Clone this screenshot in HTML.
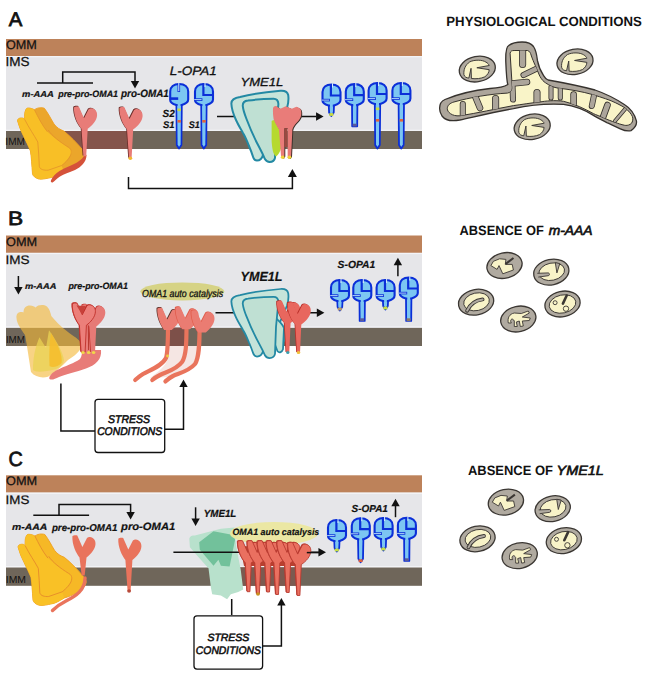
<!DOCTYPE html>
<html><head><meta charset="utf-8">
<style>
html,body{margin:0;padding:0;background:#fff;width:671px;height:686px;overflow:hidden}
svg{display:block}
text{font-family:"Liberation Sans",sans-serif;fill:#111;text-rendering:geometricPrecision}
.bi{font-weight:bold;font-style:italic;stroke:#111;stroke-width:0.2}
.it{font-style:italic;stroke:#111;stroke-width:0.3}
.b{font-weight:bold}
</style></head><body>
<svg width="671" height="686" viewBox="0 0 671 686">
<text x="8.86" y="25.90" font-size="19.91" textLength="13.58" lengthAdjust="spacingAndGlyphs" stroke="#111" stroke-width="0.75">A</text>
<rect x="6" y="39" width="416" height="17.1" fill="#bd825a"/>
<rect x="6" y="56.1" width="416" height="74.8" fill="#e6e6e9"/>
<rect x="6" y="130.9" width="416" height="18.1" fill="#6f665a"/>
<rect x="6" y="56.1" width="416" height="1.2" fill="#f3f4f8"/>
<rect x="6" y="129.70000000000002" width="416" height="1.2" fill="#f3f4f8"/>
<rect x="55" y="131" width="77" height="18" fill="#84544b"/>
<text x="5.90" y="48.50" font-size="12.65" stroke="#111" stroke-width="0.25">OMM</text>
<text x="5.55" y="66.40" font-size="13.08" textLength="24.07" lengthAdjust="spacingAndGlyphs" stroke="#111" stroke-width="0.25">IMS</text>
<text x="5.37" y="145.30" font-size="10.61" fill="#1a1a1a" textLength="19.55" lengthAdjust="spacingAndGlyphs">IMM</text>
<path d="M37,83 L93,83 M62.7,83 L62.7,72 L135,72 L135,82" fill="none" stroke="#111" stroke-width="1.5"/>
<path d="M135,88.5 L130.8,80.94 L139.2,80.94 Z" fill="#111"/>
<text x="22.04" y="97.20" font-size="8.72" class="bi" textLength="31.84" lengthAdjust="spacingAndGlyphs">m-AAA</text>
<text x="58.20" y="97.20" font-size="9.16" class="bi" textLength="59.88" lengthAdjust="spacingAndGlyphs">pre-pro-OMA1</text>
<text x="121.02" y="96.90" font-size="10.61" class="bi" textLength="47.81" lengthAdjust="spacingAndGlyphs">pro-OMA1</text>
<g transform="translate(0,0) scale(1.0)"><path d="M17.6,121 C17.3,118.5 20,117.6 22.9,118.1 C23.6,118.3 24.2,118.8 24.6,119.3 C24.5,115 24.8,112 25.3,111 C26,108.5 27,108 28.3,108 C30.5,108 32.5,108.8 34.4,109.7 C36.5,108.4 38.5,107.7 40.8,107.7 C42.5,107.7 43.6,107.9 44.4,108.3 C48,113 51,119 54,124 C57,128 60,129.5 63.8,131 C70,136 77,143 82.6,149.8 C84.5,152 85.7,154 85.7,156 C85,160 81,164 76.3,166.5 C72,169 68,170.5 63.8,171.7 C58,175 55,177 51.3,177.5 C47,178.5 42,179.5 38.8,179 C35,178 33,176 32.5,173.8 C31.8,165 31.5,157 30.4,150.9 C27,142 20,131 17.6,121 Z" fill="#eba62b" stroke="#ee9f22" stroke-width="0.9"/><path d="M17.6,121 C17.3,118.5 20,117.6 22.9,118.1 C23.6,118.3 24.2,118.8 24.6,119.3 C24.5,115 24.8,112 25.3,111 C26,108.5 27,108 28.3,108 C30.5,108 32.5,108.8 34.4,109.7 C38,117 42,125 47.4,131.8 C55,139 64,144 70,148.8 C72,151 72,153 71.1,154 C68,159 65,163 61.7,165.5 L63.8,171.7 C58,175 55,177 51.3,177.5 C47,178.5 42,179.5 38.8,179 C35,178 33,176 32.5,173.8 C31.8,165 31.5,157 30.4,150.9 C27,142 20,131 17.6,121 Z" fill="#f8bf26"/><path d="M24.6,119.3 C29,128 34,135 37.8,142 C38.5,150 39,158 39.3,166.5 C40,169.5 44,170.5 48.2,170.2 L61.7,165.5 C66,162 70,158 71,154 C72,150 70,148 68,147 C60,142 52,136 48.2,130 M34.4,109.7 C38,117 42,125 47.4,131.8" fill="none" stroke="#e3922a" stroke-width="0.8"/></g>
<path d="M86.5,155 C86.5,162 81,167 75,170 C69,172.5 64,174 60,176.5 C57,178.5 55,180.5 53,182.3 C51.5,183 50.3,182 51,180.3 C52.5,177 55.5,173.5 59.5,171 C65.5,167.5 72,165.5 77,162.5 C81,160 83.5,157.5 85,154 Z" fill="#d5523a"/>
<g transform="translate(74.3,106.7)"><path d="M-0.3,0.8 C0.5,-0.2 3,-0.5 4.6,0 L9.7,11.6 L14.3,2.6 C15,1.8 16.2,1.5 17.2,1.6 C20.8,2 23,4.8 22.8,8.6 C22.5,14 18,19 13.4,22 L11.9,49.5 L9.1,49.5 L7.200000000000001,22 C3.5,18 -0.8,9 -0.3,0.8 Z" fill="#6a2c28" transform="translate(-0.8,-0.6)"/><path d="M-0.3,0.8 C0.5,-0.2 3,-0.5 4.6,0 L9.7,11.6 L14.3,2.6 C15,1.8 16.2,1.5 17.2,1.6 C20.8,2 23,4.8 22.8,8.6 C22.5,14 18,19 13.4,22 L11.9,49.5 L9.1,49.5 L7.200000000000001,22 C3.5,18 -0.8,9 -0.3,0.8 Z" fill="#e87c78"/></g>
<g transform="translate(119.8,107.3)"><path d="M-0.3,0.8 C0.5,-0.2 3,-0.5 4.6,0 L9.7,11.6 L14.3,2.6 C15,1.8 16.2,1.5 17.2,1.6 C20.8,2 23,4.8 22.8,8.6 C22.5,14 18,19 13.4,22 L11.8,51 L9.2,51 L7.200000000000001,22 C3.5,18 -0.8,9 -0.3,0.8 Z" fill="#6a2c28" transform="translate(-0.8,-0.6)"/><path d="M-0.3,0.8 C0.5,-0.2 3,-0.5 4.6,0 L9.7,11.6 L14.3,2.6 C15,1.8 16.2,1.5 17.2,1.6 C20.8,2 23,4.8 22.8,8.6 C22.5,14 18,19 13.4,22 L11.8,51 L9.2,51 L7.200000000000001,22 C3.5,18 -0.8,9 -0.3,0.8 Z" fill="#e87c78"/><ellipse cx="10.5" cy="51" rx="1.9" ry="1.7" fill="#f2b632"/></g>
<text x="169.89" y="75.30" font-size="12.21" class="it" textLength="46.92" lengthAdjust="spacingAndGlyphs">L-OPA1</text>
<g transform="translate(169.2,83)"><path d="M7.2,20.0 L7.6,62 L9.8,65.5 L12.2,62 L12.6,20.0 Z" fill="#7cc6f2" stroke="#0b2fd8" stroke-width="1.8" stroke-linejoin="round"/><path d="M10,1 C4.5,1 1,3.8 1,8.5 L1,17 C1,19.2 3,20.8 7.2,22.0 L12.6,22.0 C16.5,20.8 19,19 19,16.5 L19,8.5 C19,3.8 15.5,1 10,1 Z" fill="#7cc6f2" stroke="#0b2fd8" stroke-width="2.1" stroke-linejoin="round"/><path d="M8.4,19.0 L8.7,62 L11,62 L11.4,19.0 Z" fill="#7cc6f2"/><path d="M9.6,0.4 L9.6,9" stroke="#0b2fd8" stroke-width="2.6"/><path d="M9.6,0 L9.6,8.2" stroke="#d6f0fb" stroke-width="1"/><path d="M0.6,15.6 L9,15.6" stroke="#0b2fd8" stroke-width="2.6"/><rect x="8.3" y="25.5" width="3.4" height="2.6" fill="#c8dc40"/><rect x="8.3" y="37.0" width="3.4" height="2.6" fill="#e4643a"/></g>
<g transform="translate(194,83)"><path d="M7.2,20.0 L7.6,62 L9.8,65.5 L12.2,62 L12.6,20.0 Z" fill="#7cc6f2" stroke="#0b2fd8" stroke-width="1.8" stroke-linejoin="round"/><path d="M10,1 C4.5,1 1,3.8 1,8.5 L1,17 C1,19.2 3,20.8 7.2,22.0 L12.6,22.0 C16.5,20.8 19,19 19,16.5 L19,8.5 C19,3.8 15.5,1 10,1 Z" fill="#7cc6f2" stroke="#0b2fd8" stroke-width="2.1" stroke-linejoin="round"/><path d="M8.4,19.0 L8.7,62 L11,62 L11.4,19.0 Z" fill="#7cc6f2"/><path d="M9.4,0.6 L9.4,12 L19,12" fill="none" stroke="#0b2fd8" stroke-width="2.2"/><path d="M11,-0.2 L11,4" stroke="#d8effa" stroke-width="1"/><path d="M0.6,16.6 L8.4,16.6" stroke="#0b2fd8" stroke-width="2.6"/><path d="M0.2,16.6 L7.6,16.6" stroke="#c2e8fb" stroke-width="0.9"/><rect x="8.3" y="37.0" width="3.4" height="2.6" fill="#e4643a"/></g>
<text x="162.58" y="116.90" font-size="10.32" class="bi" textLength="12.22" lengthAdjust="spacingAndGlyphs">S2</text>
<text x="163.09" y="128.40" font-size="9.59" class="bi" textLength="11.52" lengthAdjust="spacingAndGlyphs">S1</text>
<text x="188.79" y="128.40" font-size="9.59" class="bi" textLength="10.99" lengthAdjust="spacingAndGlyphs">S1</text>
<text x="240.44" y="86.00" font-size="11.63" class="it" textLength="42.87" lengthAdjust="spacingAndGlyphs">YME1L</text>
<path d="M217,116.5 L316,116.5" fill="none" stroke="#111" stroke-width="1.5"/>
<path d="M323.6,116.5 L316.04,112.3 L316.04,120.7 Z" fill="#111"/>
<g stroke="#2389a4" stroke-width="2" stroke-linejoin="round"><path d="M231.4,104 C231,100 234,98 240.1,97 C250,94.5 265,92 280.4,90.7 C284,90.4 287.5,91.5 288.2,95 C288.8,99 288.5,103 287,108 L280,125 C275,138 268,148 263,155.1 C262,158.5 260,160.5 257,160.5 C254.5,160.5 253.5,158.5 252.9,156.4 C251.5,152 250.5,149.5 249,146 C247,141 245.5,137 243,133 C240.5,128.5 238,124.5 236,120 C233.5,114.5 231.6,109.5 231.4,104 Z" fill="#c6e4da"/><path d="M242.8,106.2 C242.5,103 244.5,101 248,100.6 C256,99.5 266,98.8 273.6,98.8 C276.5,98.8 278.2,100.5 278.4,104 L276,130 L275,157.8 C274.5,160.5 272.5,162 269.6,162 C267.5,162 266,161 264.9,159.1 C262,152 259.5,148 257,143 C253,135 249.5,127 246.5,119 C244.5,114 243.2,110 242.8,106.2 Z" fill="#bfe0d3"/></g><path d="M271.6,121 C276,118 281,122 282,135 C282.5,145 281,153 276,156.4 C273,155 272,148 271.6,140 Z" fill="#b6d92e"/><path d="M273,108.2 C273.5,106.5 275,105.8 276.3,106.2 L280.4,108.8 L285.7,106.2 L291.8,108.8 L296.4,106.8 C299,107.5 301,109 301.1,110.8 C301.5,113 301.3,115 301,116.2 C300,119 298.5,121 296.4,122.9 C294.5,125 293,127 292.4,129.6 L291.1,156.4 L289.7,158.5 L287.7,158 L287.5,128.3 L284.4,128.3 L284.4,156 L283,158.5 L281,156 L279,129.6 C277,126 274.5,122 273.6,118.9 C273,115 272.8,111 273,108.2 Z" fill="#3b2e28" transform="translate(0.9,0.6)"/><path d="M273,108.2 C273.5,106.5 275,105.8 276.3,106.2 L280.4,108.8 L285.7,106.2 L291.8,108.8 L296.4,106.8 C299,107.5 301,109 301.1,110.8 C301.5,113 301.3,115 301,116.2 C300,119 298.5,121 296.4,122.9 C294.5,125 293,127 292.4,129.6 L291.1,156.4 L289.7,158.5 L287.7,158 L287.5,128.3 L284.4,128.3 L284.4,156 L283,158.5 L281,156 L279,129.6 C277,126 274.5,122 273.6,118.9 C273,115 272.8,111 273,108.2 Z" fill="#e97c79"/><path d="M284.4,128.3 L287.5,128.3 L287.6,147 L284.4,147 Z" fill="#9a4a40"/><ellipse cx="282.7" cy="157.3" rx="1.9" ry="1.8" fill="#f0d23a"/><ellipse cx="289.5" cy="157.3" rx="1.9" ry="1.8" fill="#f0d23a"/>
<g transform="translate(321.5,83.5)"><path d="M7.2,20.0 L7.6,29.0 L9.8,32.5 L12.2,29.0 L12.6,20.0 Z" fill="#7cc6f2" stroke="#0b2fd8" stroke-width="1.8" stroke-linejoin="round"/><path d="M10,1 C4.5,1 1,3.8 1,8.5 L1,17 C1,19.2 3,20.8 7.2,22.0 L12.6,22.0 C16.5,20.8 19,19 19,16.5 L19,8.5 C19,3.8 15.5,1 10,1 Z" fill="#7cc6f2" stroke="#0b2fd8" stroke-width="2.1" stroke-linejoin="round"/><path d="M8.4,19.0 L8.7,29.0 L11,29.0 L11.4,19.0 Z" fill="#7cc6f2"/><path d="M9.4,0.6 L9.4,12 L19,12" fill="none" stroke="#0b2fd8" stroke-width="2.2"/><path d="M11,-0.2 L11,4" stroke="#d8effa" stroke-width="1"/><path d="M0.6,16.6 L8.4,16.6" stroke="#0b2fd8" stroke-width="2.6"/><path d="M0.2,16.6 L7.6,16.6" stroke="#c2e8fb" stroke-width="0.9"/><rect x="7.8" y="29.6" width="4" height="2.8" fill="#c8dc40"/></g>
<g transform="translate(344.8,83.1)"><path d="M7.2,20.0 L7.4,43.2 L12.4,43.2 L12.6,20.0 Z" fill="#7cc6f2" stroke="#0b2fd8" stroke-width="1.8" stroke-linejoin="round"/><path d="M10,1 C4.5,1 1,3.8 1,8.5 L1,17 C1,19.2 3,20.8 7.2,22.0 L12.6,22.0 C16.5,20.8 19,19 19,16.5 L19,8.5 C19,3.8 15.5,1 10,1 Z" fill="#7cc6f2" stroke="#0b2fd8" stroke-width="2.1" stroke-linejoin="round"/><path d="M8.4,19.0 L8.7,40.0 L11,40.0 L11.4,19.0 Z" fill="#7cc6f2"/><path d="M9.4,0.6 L9.4,12 L19,12" fill="none" stroke="#0b2fd8" stroke-width="2.2"/><path d="M11,-0.2 L11,4" stroke="#d8effa" stroke-width="1"/><path d="M0.6,16.6 L8.4,16.6" stroke="#0b2fd8" stroke-width="2.6"/><path d="M0.2,16.6 L7.6,16.6" stroke="#c2e8fb" stroke-width="0.9"/><rect x="7.8" y="40.6" width="4" height="2.8" fill="#5a5a9a"/></g>
<g transform="translate(367.6,82)"><path d="M7.2,20.0 L7.6,63 L9.8,66.5 L12.2,63 L12.6,20.0 Z" fill="#7cc6f2" stroke="#0b2fd8" stroke-width="1.8" stroke-linejoin="round"/><path d="M10,1 C4.5,1 1,3.8 1,8.5 L1,17 C1,19.2 3,20.8 7.2,22.0 L12.6,22.0 C16.5,20.8 19,19 19,16.5 L19,8.5 C19,3.8 15.5,1 10,1 Z" fill="#7cc6f2" stroke="#0b2fd8" stroke-width="2.1" stroke-linejoin="round"/><path d="M8.4,19.0 L8.7,63 L11,63 L11.4,19.0 Z" fill="#7cc6f2"/><path d="M9.4,0.6 L9.4,12 L19,12" fill="none" stroke="#0b2fd8" stroke-width="2.2"/><path d="M11,-0.2 L11,4" stroke="#d8effa" stroke-width="1"/><path d="M0.6,16.6 L8.4,16.6" stroke="#0b2fd8" stroke-width="2.6"/><path d="M0.2,16.6 L7.6,16.6" stroke="#c2e8fb" stroke-width="0.9"/><rect x="8.3" y="25.5" width="3.4" height="2.6" fill="#c8dc40"/><rect x="8.3" y="37.0" width="3.4" height="2.6" fill="#e4643a"/></g>
<g transform="translate(391.4,82)"><path d="M7.2,20.0 L7.6,63 L9.8,66.5 L12.2,63 L12.6,20.0 Z" fill="#7cc6f2" stroke="#0b2fd8" stroke-width="1.8" stroke-linejoin="round"/><path d="M10,1 C4.5,1 1,3.8 1,8.5 L1,17 C1,19.2 3,20.8 7.2,22.0 L12.6,22.0 C16.5,20.8 19,19 19,16.5 L19,8.5 C19,3.8 15.5,1 10,1 Z" fill="#7cc6f2" stroke="#0b2fd8" stroke-width="2.1" stroke-linejoin="round"/><path d="M8.4,19.0 L8.7,63 L11,63 L11.4,19.0 Z" fill="#7cc6f2"/><path d="M9.4,0.6 L9.4,12 L19,12" fill="none" stroke="#0b2fd8" stroke-width="2.2"/><path d="M11,-0.2 L11,4" stroke="#d8effa" stroke-width="1"/><path d="M0.6,16.6 L8.4,16.6" stroke="#0b2fd8" stroke-width="2.6"/><path d="M0.2,16.6 L7.6,16.6" stroke="#c2e8fb" stroke-width="0.9"/><rect x="8.3" y="37.0" width="3.4" height="2.6" fill="#e4643a"/></g>
<path d="M128.5,177 L128.5,188.6 L292.4,188.6 L292.4,175" fill="none" stroke="#111" stroke-width="1.5"/>
<path d="M292.4,169 L287.9,177.1 L296.9,177.1 Z" fill="#111"/>
<text x="446.32" y="26.40" font-size="13.37" class="b" textLength="195.40" lengthAdjust="spacingAndGlyphs">PHYSIOLOGICAL CONDITIONS</text>
<defs><clipPath id="bmclip"><path d="M447.3,108.6 C447.5,105 450,103.2 453.9,102 C470,97.5 490,94 507.5,93.1 C510,92.5 512.5,91 512.3,88 L510.1,53.2 C510.5,51 512,50.5 514.1,50.5 L527.5,50.5 C529.5,51 530.5,53 531.1,55 C532,58 533,60 533.8,62.2 C535,65 535.8,66.5 536.5,68.4 C538,72 539,74.5 540,76.5 C542,80 543.5,81.5 545.4,82.7 C550,86 554,87.5 558,88.1 C570,89.5 582,91.5 593.4,94.8 C602,97.5 610,100 615.8,102.9 C622,106 626,108 628.3,110.9 C631,113.5 632.5,116 632.8,118.1 C633,121 632,123.5 630.1,124.4 C628,125.5 626,125.5 624.7,125.3 C621,124.5 618,123.5 615.8,122.6 C611,121 607,119.5 604.2,118.1 C600,116 596,115 593.4,113.6 C585,109 575,104 563.5,101.3 C555,100 545,101 540,102 C530,103 522,104.5 513.5,105.6 C495,109 478,113 459.8,115.8 C452,116.5 447.2,112 447.3,108.6 Z"/></clipPath></defs><path d="M439.6,108.6 C439.5,104 441.5,101 445,99.5 C458,94 472,90.5 490,88.5 C498,88 504,87 507.8,84.5 C506.5,80 506.2,72 505.8,62 C505.5,52 506,47 508.7,45.5 C512,43 517,42 522.1,42 C527,42 531,43 533.5,46.5 C536.5,51 537,57 537.4,60.4 C538.5,66 540.5,71 543.6,75.6 C545,78 546.5,79.5 548.1,80 C565,83 580,86 595,90 C606.8,94 616,99 624.7,104.7 C630,108 634,112 636.4,120.8 C637,124 636,127 631,130.6 C628,131.5 624,130.5 620.3,128.8 C615,126.5 610,124 606.8,122.6 C600,119 596,117 593.4,115.4 C585,110 575,106 563.5,104.4 C548,103.5 530,105 513.5,108.6 C495,112 478,116 459.8,120 C452,121.5 445,120 442,116 C440,113 439.6,111 439.6,108.6 Z" fill="#aca59b" stroke="#36322e" stroke-width="1.3"/><path d="M447.3,108.6 C447.5,105 450,103.2 453.9,102 C470,97.5 490,94 507.5,93.1 C510,92.5 512.5,91 512.3,88 L510.1,53.2 C510.5,51 512,50.5 514.1,50.5 L527.5,50.5 C529.5,51 530.5,53 531.1,55 C532,58 533,60 533.8,62.2 C535,65 535.8,66.5 536.5,68.4 C538,72 539,74.5 540,76.5 C542,80 543.5,81.5 545.4,82.7 C550,86 554,87.5 558,88.1 C570,89.5 582,91.5 593.4,94.8 C602,97.5 610,100 615.8,102.9 C622,106 626,108 628.3,110.9 C631,113.5 632.5,116 632.8,118.1 C633,121 632,123.5 630.1,124.4 C628,125.5 626,125.5 624.7,125.3 C621,124.5 618,123.5 615.8,122.6 C611,121 607,119.5 604.2,118.1 C600,116 596,115 593.4,113.6 C585,109 575,104 563.5,101.3 C555,100 545,101 540,102 C530,103 522,104.5 513.5,105.6 C495,109 478,113 459.8,115.8 C452,116.5 447.2,112 447.3,108.6 Z" fill="#f9f4c8" stroke="#36322e" stroke-width="1"/><g clip-path="url(#bmclip)" fill="none" stroke-linecap="round"><path d="M522.6,48 L522.6,64.5" stroke="#36322e" stroke-width="7.1"/><path d="M538,68 L523.5,75" stroke="#36322e" stroke-width="6.1"/><path d="M510,83.8 L527,82" stroke="#36322e" stroke-width="6.6"/><path d="M512.5,86 L513,99.5" stroke="#36322e" stroke-width="6.1"/><path d="M537,107 L537,92.5" stroke="#36322e" stroke-width="7.1"/><path d="M551,87 L551,98" stroke="#36322e" stroke-width="5.1"/><path d="M560.3,88 L560.3,98" stroke="#36322e" stroke-width="5.1"/><path d="M573.6,104 L573.6,94.5" stroke="#36322e" stroke-width="6.6"/><path d="M594.5,93 L591.8,106" stroke="#36322e" stroke-width="6.1"/><path d="M602,120 L607.5,105" stroke="#36322e" stroke-width="6.6"/><path d="M626,108 L615,121" stroke="#36322e" stroke-width="4.1"/><path d="M475,96 L480,108" stroke="#36322e" stroke-width="6.6"/><path d="M462.8,118 L462.8,104" stroke="#36322e" stroke-width="6.1"/><path d="M495.6,112 L495.6,98.5" stroke="#36322e" stroke-width="7.1"/><path d="M522.6,48 L522.6,64.5" stroke="#aca59b" stroke-width="5.5"/><path d="M538,68 L523.5,75" stroke="#aca59b" stroke-width="4.5"/><path d="M510,83.8 L527,82" stroke="#aca59b" stroke-width="5"/><path d="M512.5,86 L513,99.5" stroke="#aca59b" stroke-width="4.5"/><path d="M537,107 L537,92.5" stroke="#aca59b" stroke-width="5.5"/><path d="M551,87 L551,98" stroke="#aca59b" stroke-width="3.5"/><path d="M560.3,88 L560.3,98" stroke="#aca59b" stroke-width="3.5"/><path d="M573.6,104 L573.6,94.5" stroke="#aca59b" stroke-width="5"/><path d="M594.5,93 L591.8,106" stroke="#aca59b" stroke-width="4.5"/><path d="M602,120 L607.5,105" stroke="#aca59b" stroke-width="5"/><path d="M626,108 L615,121" stroke="#aca59b" stroke-width="2.5"/><path d="M475,96 L480,108" stroke="#aca59b" stroke-width="5"/><path d="M462.8,118 L462.8,104" stroke="#aca59b" stroke-width="4.5"/><path d="M495.6,112 L495.6,98.5" stroke="#aca59b" stroke-width="5.5"/></g>
<g transform="translate(477.3,69.1)"><ellipse cx="0" cy="0" rx="18.2" ry="12.6" transform="rotate(-11)" fill="#b0aaa0" stroke="#3b3733" stroke-width="1.3"/><path d="M-14,6 C-14.5,1 -13,-4 -8,-7.5 C-3,-10 5,-10 9,-7.5 C11,-6.5 12,-5 12.5,-4 L-0.5,-1.4 L12.5,0.4 C12.5,3 11,6 8,8 C4,10 -1,10.5 -6,10 L-6.6,-0.7 L-8.7,9.6 C-11,9.5 -13.5,8.5 -14,6 Z" transform="scale(0.95) rotate(1)" fill="#f8f3c8" stroke="#3b3733" stroke-width="1"/></g>
<g transform="translate(575,61.8)"><ellipse cx="0" cy="0" rx="18.2" ry="12.6" transform="rotate(-11)" fill="#b0aaa0" stroke="#3b3733" stroke-width="1.3"/><path d="M-14,6 C-14.5,1 -13,-4 -8,-7.5 C-3,-10 5,-10 9,-7.5 C11,-6.5 12,-5 12.5,-4 L-0.5,-1.4 L12.5,0.4 C12.5,3 11,6 8,8 C4,10 -1,10.5 -6,10 L-6.6,-0.7 L-8.7,9.6 C-11,9.5 -13.5,8.5 -14,6 Z" transform="scale(0.95) rotate(1)" fill="#f8f3c8" stroke="#3b3733" stroke-width="1"/></g>
<g transform="translate(532.2,126.8)"><ellipse cx="0" cy="0" rx="18.2" ry="12.6" transform="rotate(-11)" fill="#b0aaa0" stroke="#3b3733" stroke-width="1.3"/><path d="M-14,6 C-14.5,1 -13,-4 -8,-7.5 C-3,-10 5,-10 9,-7.5 C11,-6.5 12,-5 12.5,-4 L-0.5,-1.4 L12.5,0.4 C12.5,3 11,6 8,8 C4,10 -1,10.5 -6,10 L-6.6,-0.7 L-8.7,9.6 C-11,9.5 -13.5,8.5 -14,6 Z" transform="scale(0.95) rotate(1)" fill="#f8f3c8" stroke="#3b3733" stroke-width="1"/></g>
<text x="7.94" y="225.00" font-size="19.62" textLength="15.16" lengthAdjust="spacingAndGlyphs" stroke="#111" stroke-width="0.75">B</text>
<rect x="6" y="235.5" width="416" height="17.4" fill="#bd825a"/>
<rect x="6" y="252.9" width="416" height="74.7" fill="#e6e6e9"/>
<rect x="6" y="327.6" width="416" height="18.4" fill="#6f665a"/>
<rect x="6" y="252.9" width="416" height="1.2" fill="#f3f4f8"/>
<rect x="6" y="326.40000000000003" width="416" height="1.2" fill="#f3f4f8"/>
<text x="6.10" y="245.60" font-size="12.50" textLength="31.15" lengthAdjust="spacingAndGlyphs" stroke="#111" stroke-width="0.25">OMM</text>
<text x="5.55" y="263.60" font-size="12.35" textLength="24.07" lengthAdjust="spacingAndGlyphs" stroke="#111" stroke-width="0.25">IMS</text>
<text x="5.89" y="342.60" font-size="10.17" fill="#1a1a1a" textLength="19.11" lengthAdjust="spacingAndGlyphs">IMM</text>
<text x="459.58" y="235.20" font-size="13.52" class="b" textLength="84.19" lengthAdjust="spacingAndGlyphs">ABSENCE OF</text>
<text x="548.67" y="235.20" font-size="13.52" class="it" textLength="43.87" lengthAdjust="spacingAndGlyphs" style="stroke-width:0.65">m-AAA</text>
<path d="M18.4,276 L18.4,288" fill="none" stroke="#111" stroke-width="1.5"/>
<path d="M18.4,294.6 L14.2,287.04 L22.599999999999998,287.04 Z" fill="#111"/>
<text x="25.04" y="288.60" font-size="8.43" class="bi" textLength="31.43" lengthAdjust="spacingAndGlyphs">m-AAA</text>
<text x="68.40" y="289.00" font-size="9.16" class="bi" textLength="59.68" lengthAdjust="spacingAndGlyphs">pre-pro-OMA1</text>
<path d="M16.5,318 C16,313 19.5,311 23.5,312.5 C23.5,308 26,305.5 30,305.5 C32.5,305.5 34.5,306.5 35.5,307.5 C37,305.5 40,304.8 43,305 C47,305.5 49.5,308 51.3,315.9 C56,322 65,330 72,335 C78,339 82,342 81.5,346 C80,352 74,356 68,360 C62,366 56,372 48,376.7 C42,378.5 35,377 31,372 C29,360 27,345 25,335 C20,328 16.8,323 16.5,318 Z" fill="#f3b838" opacity="0.62"/>
<path d="M33,370 C33,358 35,348 39.4,337.3 L46,348 L49,330.2 C56,340 63,352 64,360 C63,367 56,370 47,371 C40,372 35,372 33,370 Z" fill="#e9d353" opacity="0.75"/>
<path d="M49.5,366 C49,354 49.5,342 51,333 C57,343 63,355 61.5,363 C58,367 52,368 49.5,366 Z" fill="#f6bc2a" opacity="0.85"/>
<path d="M82,350 L101,350 C102,359 96,365 86,368.5 C76,372 66,374 59,377 C55,379 51.5,380.5 49.5,379 C48.5,377 51,373.5 56,370.5 C65,366 75,363 80,359 C82,356 82,353 82,350 Z" fill="#e87c78"/>
<path d="M82,322 L95,322 L94,352 L83,352 Z" fill="#e87c78"/><path d="M88.3,324 L88.6,350" stroke="#b83a30" stroke-width="1"/>
<g transform="translate(82.5,304.5)"><path d="M-0.3,0.8 C0.5,-0.2 3,-0.5 4.6,0 L9.7,11.6 L14.3,2.6 C15,1.8 16.2,1.5 17.2,1.6 C20.8,2 23,4.8 22.8,8.6 C22.5,14 18,19 13.8,22 L12.5,48 L8.5,48 L6.800000000000001,22 C3.5,18 -0.8,9 -0.3,0.8 Z" fill="#c0302a" transform="translate(-0.8,-0.6)"/><path d="M-0.3,0.8 C0.5,-0.2 3,-0.5 4.6,0 L9.7,11.6 L14.3,2.6 C15,1.8 16.2,1.5 17.2,1.6 C20.8,2 23,4.8 22.8,8.6 C22.5,14 18,19 13.8,22 L12.5,48 L8.5,48 L6.800000000000001,22 C3.5,18 -0.8,9 -0.3,0.8 Z" fill="#e67a76"/></g>
<g transform="translate(72.6,303.2)"><path d="M-0.3,0.8 C0.5,-0.2 3,-0.5 4.6,0 L9.7,11.6 L14.3,2.6 C15,1.8 16.2,1.5 17.2,1.6 C20.8,2 23,4.8 22.8,8.6 C22.5,14 18,19 13.8,22 L12.5,49 L8.5,49 L6.800000000000001,22 C3.5,18 -0.8,9 -0.3,0.8 Z" fill="#c0302a" transform="translate(-0.8,-0.6)"/><path d="M-0.3,0.8 C0.5,-0.2 3,-0.5 4.6,0 L9.7,11.6 L14.3,2.6 C15,1.8 16.2,1.5 17.2,1.6 C20.8,2 23,4.8 22.8,8.6 C22.5,14 18,19 13.8,22 L12.5,49 L8.5,49 L6.800000000000001,22 C3.5,18 -0.8,9 -0.3,0.8 Z" fill="#ec7f7a" stroke="#c0302a" stroke-width="0.9" stroke-linejoin="round"/></g>
<path d="M76.5,305.5 L82.4,315 L85.5,306 Z" fill="#c8403a"/>
<ellipse cx="83" cy="352.5" rx="1.8" ry="1.6" fill="#f0d84a"/>
<ellipse cx="88.7" cy="352.5" rx="1.8" ry="1.6" fill="#f0d84a"/>
<ellipse cx="93.6" cy="352.5" rx="1.8" ry="1.6" fill="#f0d84a"/>
<ellipse cx="182.3" cy="291.4" rx="42" ry="9" fill="#d6d385"/>
<text x="142.02" y="296.60" font-size="10.32" class="it" fill="#222" textLength="81.06" lengthAdjust="spacingAndGlyphs">OMA1 auto catalysis</text>
<rect x="169" y="327.5" width="17" height="18.5" fill="#7d5049"/>
<path d="M168,346 L200,346 L196,366 C190,372 180,374 170,377 L150,378 C158,372 166,366 168,358 Z" fill="#f3e0dc" opacity="0.8"/>
<path d="M168,325 C168,340 168,352 166,358 C162,366 150,370 143,374 C139,376.5 137,378.5 135.2,380" fill="none" stroke="#e9745c" stroke-width="4.2" stroke-linecap="round"/>
<path d="M186.5,325 C186.5,345 186,356 182,362 C176,370 166,372 160,375 C156,377 154,378.5 152.3,380" fill="none" stroke="#e9745c" stroke-width="4.2" stroke-linecap="round"/>
<path d="M199.6,325 C199.6,345 199,358 195,364 C189,371 180,373 173,376 C169,378 167,380 165.4,381.4" fill="none" stroke="#e9745c" stroke-width="4.2" stroke-linecap="round"/>
<g transform="translate(157.6,307.9)"><path d="M-0.3,0.8 C0.5,-0.2 3,-0.5 4.6,0 L9.7,11.6 L14.3,2.6 C15,1.8 16.2,1.5 17.2,1.6 C20.8,2 23,4.8 22.8,8.6 C22.5,14 18,19 14.05,22 L12.0,22 L9.0,22 L6.550000000000001,22 C3.5,18 -0.8,9 -0.3,0.8 Z" fill="#5a3028" transform="translate(-0.8,-0.6)"/><path d="M-0.3,0.8 C0.5,-0.2 3,-0.5 4.6,0 L9.7,11.6 L14.3,2.6 C15,1.8 16.2,1.5 17.2,1.6 C20.8,2 23,4.8 22.8,8.6 C22.5,14 18,19 14.05,22 L12.0,22 L9.0,22 L6.550000000000001,22 C3.5,18 -0.8,9 -0.3,0.8 Z" fill="#ea7c72"/></g>
<g transform="translate(175.9,307.2)"><path d="M-0.3,0.8 C0.5,-0.2 3,-0.5 4.6,0 L9.7,11.6 L14.3,2.6 C15,1.8 16.2,1.5 17.2,1.6 C20.8,2 23,4.8 22.8,8.6 C22.5,14 18,19 14.05,22 L12.0,22 L9.0,22 L6.550000000000001,22 C3.5,18 -0.8,9 -0.3,0.8 Z" fill="#e05a48" transform="translate(-0.8,-0.6)"/><path d="M-0.3,0.8 C0.5,-0.2 3,-0.5 4.6,0 L9.7,11.6 L14.3,2.6 C15,1.8 16.2,1.5 17.2,1.6 C20.8,2 23,4.8 22.8,8.6 C22.5,14 18,19 14.05,22 L12.0,22 L9.0,22 L6.550000000000001,22 C3.5,18 -0.8,9 -0.3,0.8 Z" fill="#ea7c72"/></g>
<g transform="translate(191.7,310.5)"><path d="M-0.3,0.8 C0.5,-0.2 3,-0.5 4.6,0 L9.7,11.6 L14.3,2.6 C15,1.8 16.2,1.5 17.2,1.6 C20.8,2 23,4.8 22.8,8.6 C22.5,14 18,19 14.05,22 L12.0,22 L9.0,22 L6.550000000000001,22 C3.5,18 -0.8,9 -0.3,0.8 Z" fill="#e05a48" transform="translate(-0.8,-0.6)"/><path d="M-0.3,0.8 C0.5,-0.2 3,-0.5 4.6,0 L9.7,11.6 L14.3,2.6 C15,1.8 16.2,1.5 17.2,1.6 C20.8,2 23,4.8 22.8,8.6 C22.5,14 18,19 14.05,22 L12.0,22 L9.0,22 L6.550000000000001,22 C3.5,18 -0.8,9 -0.3,0.8 Z" fill="#ea7c72"/></g>
<ellipse cx="167.5" cy="356" rx="1.4" ry="1.4" fill="#f0d040"/>
<text x="240.54" y="280.70" font-size="13.23" class="bi" textLength="42.00" lengthAdjust="spacingAndGlyphs">YME1L</text>
<path d="M215.5,312.7 L317,312.7" fill="none" stroke="#111" stroke-width="1.5"/>
<path d="M324.4,312.7 L316.84,308.5 L316.84,316.9 Z" fill="#111"/>
<g transform="translate(0,289) scale(1,0.968) translate(0,-90.7)"><path d="M281,131 L287,131 L287,145 L281,145 Z" fill="#3a9aa8"/><g stroke="#2389a4" stroke-width="1.8" stroke-linejoin="round"><path d="M231.4,104 C231,100 234,98 240.1,97 C250,94.5 265,92 280.4,90.7 C284,90.4 287.5,91.5 288.2,95 C288.8,99 288.5,103 287,108 L280,125 C275,138 268,148 263,155.1 C262,158.5 260,160.5 257,160.5 C254.5,160.5 253.5,158.5 252.9,156.4 C251.5,152 250.5,149.5 249,146 C247,141 245.5,137 243,133 C240.5,128.5 238,124.5 236,120 C233.5,114.5 231.6,109.5 231.4,104 Z" fill="#c6e4da"/><path d="M273.3,118.7 C278,122 283,128 284,131 L283,153 C282,156 279.5,157 277.5,155 L272,140 Z" fill="#c0e2d4"/><path d="M242.8,106.2 C242.5,103 244.5,101 248,100.6 C256,99.5 266,98.8 273.6,98.8 C276.5,98.8 278.2,100.5 278.4,104 L276,130 L275,157.8 C274.5,160.5 272.5,162 269.6,162 C267.5,162 266,161 264.9,159.1 C262,152 259.5,148 257,143 C253,135 249.5,127 246.5,119 C244.5,114 243.2,110 242.8,106.2 Z" fill="#bfe0d3"/></g></g><g transform="translate(277.3,301)"><path d="M-0.3,0.8 C0.5,-0.2 3,-0.5 4.6,0 L9.7,11.6 L14.3,2.6 C15,1.8 16.2,1.5 17.2,1.6 C20.8,2 23,4.8 22.8,8.6 C22.5,14 18,19 13.3,22 L12.0,51.5 L9.0,51.5 L7.300000000000001,22 C3.5,18 -0.8,9 -0.3,0.8 Z" fill="#b82e28" transform="translate(-0.8,-0.6)"/><path d="M-0.3,0.8 C0.5,-0.2 3,-0.5 4.6,0 L9.7,11.6 L14.3,2.6 C15,1.8 16.2,1.5 17.2,1.6 C20.8,2 23,4.8 22.8,8.6 C22.5,14 18,19 13.3,22 L12.0,51.5 L9.0,51.5 L7.300000000000001,22 C3.5,18 -0.8,9 -0.3,0.8 Z" fill="#e8675e"/></g><g transform="translate(288,302.4)"><path d="M-0.3,0.8 C0.5,-0.2 3,-0.5 4.6,0 L9.7,11.6 L14.3,2.6 C15,1.8 16.2,1.5 17.2,1.6 C20.8,2 23,4.8 22.8,8.6 C22.5,14 18,19 13.3,22 L12.0,50.3 L9.0,50.3 L7.300000000000001,22 C3.5,18 -0.8,9 -0.3,0.8 Z" fill="#b82e28" transform="translate(-0.8,-0.6)"/><path d="M-0.3,0.8 C0.5,-0.2 3,-0.5 4.6,0 L9.7,11.6 L14.3,2.6 C15,1.8 16.2,1.5 17.2,1.6 C20.8,2 23,4.8 22.8,8.6 C22.5,14 18,19 13.3,22 L12.0,50.3 L9.0,50.3 L7.300000000000001,22 C3.5,18 -0.8,9 -0.3,0.8 Z" fill="#e8675e"/></g><ellipse cx="287.8" cy="352.5" rx="1.6" ry="1.5" fill="#3aa0b0"/><ellipse cx="298.5" cy="352.5" rx="1.8" ry="1.6" fill="#f0c23a"/>
<text x="337.57" y="268.30" font-size="10.32" class="bi">S-OPA1</text>
<path d="M397.9,264 L397.9,276.2" fill="none" stroke="#111" stroke-width="1.5"/>
<path d="M397.9,257.8 L393.7,265.36 L402.09999999999997,265.36 Z" fill="#111"/>
<g transform="translate(330,279)"><path d="M7.2,20.0 L7.6,28 L9.8,31.5 L12.2,28 L12.6,20.0 Z" fill="#7cc6f2" stroke="#0b2fd8" stroke-width="1.8" stroke-linejoin="round"/><path d="M10,1 C4.5,1 1,3.8 1,8.5 L1,17 C1,19.2 3,20.8 7.2,22.0 L12.6,22.0 C16.5,20.8 19,19 19,16.5 L19,8.5 C19,3.8 15.5,1 10,1 Z" fill="#7cc6f2" stroke="#0b2fd8" stroke-width="2.1" stroke-linejoin="round"/><path d="M8.4,19.0 L8.7,28 L11,28 L11.4,19.0 Z" fill="#7cc6f2"/><path d="M9.4,0.6 L9.4,12 L19,12" fill="none" stroke="#0b2fd8" stroke-width="2.2"/><path d="M11,-0.2 L11,4" stroke="#d8effa" stroke-width="1"/><path d="M0.6,16.6 L8.4,16.6" stroke="#0b2fd8" stroke-width="2.6"/><path d="M0.2,16.6 L7.6,16.6" stroke="#c2e8fb" stroke-width="0.9"/><rect x="7.8" y="28.6" width="4" height="2.8" fill="#b89a6a"/></g>
<g transform="translate(352.3,279)"><path d="M7.2,20.0 L7.4,41.89999999999999 L12.4,41.89999999999999 L12.6,20.0 Z" fill="#7cc6f2" stroke="#0b2fd8" stroke-width="1.8" stroke-linejoin="round"/><path d="M10,1 C4.5,1 1,3.8 1,8.5 L1,17 C1,19.2 3,20.8 7.2,22.0 L12.6,22.0 C16.5,20.8 19,19 19,16.5 L19,8.5 C19,3.8 15.5,1 10,1 Z" fill="#7cc6f2" stroke="#0b2fd8" stroke-width="2.1" stroke-linejoin="round"/><path d="M8.4,19.0 L8.7,38.69999999999999 L11,38.69999999999999 L11.4,19.0 Z" fill="#7cc6f2"/><path d="M9.4,0.6 L9.4,12 L19,12" fill="none" stroke="#0b2fd8" stroke-width="2.2"/><path d="M11,-0.2 L11,4" stroke="#d8effa" stroke-width="1"/><path d="M0.6,16.6 L8.4,16.6" stroke="#0b2fd8" stroke-width="2.6"/><path d="M0.2,16.6 L7.6,16.6" stroke="#c2e8fb" stroke-width="0.9"/><rect x="7.8" y="39.29999999999999" width="4" height="2.8" fill="#5a5a9a"/></g>
<g transform="translate(375.6,279)"><path d="M7.2,20.0 L7.6,27 L9.8,30.5 L12.2,27 L12.6,20.0 Z" fill="#7cc6f2" stroke="#0b2fd8" stroke-width="1.8" stroke-linejoin="round"/><path d="M10,1 C4.5,1 1,3.8 1,8.5 L1,17 C1,19.2 3,20.8 7.2,22.0 L12.6,22.0 C16.5,20.8 19,19 19,16.5 L19,8.5 C19,3.8 15.5,1 10,1 Z" fill="#7cc6f2" stroke="#0b2fd8" stroke-width="2.1" stroke-linejoin="round"/><path d="M8.4,19.0 L8.7,27 L11,27 L11.4,19.0 Z" fill="#7cc6f2"/><path d="M9.4,0.6 L9.4,12 L19,12" fill="none" stroke="#0b2fd8" stroke-width="2.2"/><path d="M11,-0.2 L11,4" stroke="#d8effa" stroke-width="1"/><path d="M0.6,16.6 L8.4,16.6" stroke="#0b2fd8" stroke-width="2.6"/><path d="M0.2,16.6 L7.6,16.6" stroke="#c2e8fb" stroke-width="0.9"/><rect x="7.8" y="27.6" width="4" height="2.8" fill="#c8e040"/></g>
<g transform="translate(398.8,276.5)"><path d="M7.2,20.0 L7.4,44.39999999999999 L12.4,44.39999999999999 L12.6,20.0 Z" fill="#7cc6f2" stroke="#0b2fd8" stroke-width="1.8" stroke-linejoin="round"/><path d="M10,1 C4.5,1 1,3.8 1,8.5 L1,17 C1,19.2 3,20.8 7.2,22.0 L12.6,22.0 C16.5,20.8 19,19 19,16.5 L19,8.5 C19,3.8 15.5,1 10,1 Z" fill="#7cc6f2" stroke="#0b2fd8" stroke-width="2.1" stroke-linejoin="round"/><path d="M8.4,19.0 L8.7,41.19999999999999 L11,41.19999999999999 L11.4,19.0 Z" fill="#7cc6f2"/><path d="M9.4,0.6 L9.4,12 L19,12" fill="none" stroke="#0b2fd8" stroke-width="2.2"/><path d="M11,-0.2 L11,4" stroke="#d8effa" stroke-width="1"/><path d="M0.6,16.6 L8.4,16.6" stroke="#0b2fd8" stroke-width="2.6"/><path d="M0.2,16.6 L7.6,16.6" stroke="#c2e8fb" stroke-width="0.9"/><rect x="7.8" y="41.79999999999999" width="4" height="2.8" fill="#8a7a6a"/></g>
<path d="M60.9,383.6 L60.9,431 L95,431 M164.7,429.2 L183.5,429.2 L183.5,386" fill="none" stroke="#111" stroke-width="1.5"/>
<path d="M183.5,379.5 L179.3,387.06 L187.7,387.06 Z" fill="#111"/>
<rect x="95" y="399.3" width="69.7" height="53.2" rx="3" fill="#fff" stroke="#111" stroke-width="1.3"/>
<text x="108.10" y="423.00" font-size="11.19" class="it" textLength="42.01" lengthAdjust="spacingAndGlyphs" style="stroke-width:0.55">STRESS</text>
<text x="97.13" y="435.00" font-size="11.19" class="it" textLength="64.98" lengthAdjust="spacingAndGlyphs" style="stroke-width:0.55">CONDITIONS</text>
<g transform="translate(504.5,265.5)"><ellipse cx="0" cy="0" rx="17.8" ry="12.7" transform="rotate(-12)" fill="#b0aaa0" stroke="#3b3733" stroke-width="1.3"/><path d="M-13.6,0.1 L-11.1,-4.2 L-4.9,-6.7 L1.4,-6.1 L0.8,-1.1 L7.7,-1.1 L8.9,4.5 L-1.7,8.3 L-5.5,0.1 L-7.4,3.9 Z" fill="#f8f3c8" stroke="#3b3733" stroke-width="0.9" stroke-linejoin="round"/><path d="M1,-1.5 L9,-7.5" stroke="#3b3733" stroke-width="2"/></g><g transform="translate(551.3,272.1)"><ellipse cx="0" cy="0" rx="17.8" ry="12.7" transform="rotate(-12)" fill="#b0aaa0" stroke="#3b3733" stroke-width="1.3"/><ellipse cx="0.5" cy="-0.3" rx="13" ry="8.6" transform="rotate(-12)" fill="#f8f3c8" stroke="#3b3733" stroke-width="0.9"/><path d="M-14,1.2 L-3,0.8 C-1.5,1 -1.5,3.5 -3,3.6 L-13,5" fill="#b0aaa0" stroke="#3b3733" stroke-width="0.9"/><path d="M4,-9.5 L5.6,0.8 L8.5,-8.5 Z" fill="#b0aaa0" stroke="#3b3733" stroke-width="0.9"/></g><g transform="translate(476.1,302.2)"><ellipse cx="0" cy="0" rx="17.8" ry="12.7" transform="rotate(-12)" fill="#b0aaa0" stroke="#3b3733" stroke-width="1.3"/><ellipse cx="0.5" cy="-0.3" rx="13" ry="8.8" transform="rotate(-12)" fill="#f8f3c8" stroke="#3b3733" stroke-width="0.9"/><path d="M-9,8.5 C-6,2 0,-2 6.5,-2.8" fill="none" stroke="#3b3733" stroke-width="3.8" stroke-linecap="round"/><path d="M-9,8.5 C-6,2 0,-2 6.5,-2.8" fill="none" stroke="#b0aaa0" stroke-width="2" stroke-linecap="round"/></g><g transform="translate(518.3,319)"><ellipse cx="0" cy="0" rx="17.8" ry="12.7" transform="rotate(-12)" fill="#b0aaa0" stroke="#3b3733" stroke-width="1.3"/><path d="M-10,4 C-11,-1 -9,-5 -4,-6 L3,-5.5 L10,-8 L11,-6 L4,-2 L12,-1 L11,1.5 L4,2 L5,7 L2,7.5 L1,2 L-2,3 L-1,7.5 L-4,7.5 L-4,2 C-6,-2 -9,1 -7,4 Z" fill="#f8f3c8" stroke="#3b3733" stroke-width="0.9" stroke-linejoin="round"/></g><g transform="translate(562.5,304)"><ellipse cx="0" cy="0" rx="17.8" ry="12.7" transform="rotate(-12)" fill="#b0aaa0" stroke="#3b3733" stroke-width="1.3"/><ellipse cx="0" cy="0" rx="13.5" ry="9" transform="rotate(-12)" fill="#f8f3c8" stroke="#3b3733" stroke-width="0.9"/><circle cx="-7.4" cy="-1.3" r="2" fill="none" stroke="#3b3733" stroke-width="0.9"/><circle cx="3.5" cy="4.7" r="2.7" fill="#f8f3c8" stroke="#3b3733" stroke-width="0.9"/><path d="M4.2,-8.5 L0.4,-0.4" stroke="#3b3733" stroke-width="2.6" stroke-linecap="round"/></g>
<text x="8.40" y="466.40" font-size="20.49" textLength="14.25" lengthAdjust="spacingAndGlyphs" stroke="#111" stroke-width="0.75">C</text>
<rect x="6" y="475.3" width="416" height="17.4" fill="#bd825a"/>
<rect x="6" y="492.7" width="416" height="74.6" fill="#e6e6e9"/>
<rect x="6" y="567.3" width="416" height="18.5" fill="#6f665a"/>
<rect x="6" y="492.7" width="416" height="1.2" fill="#f3f4f8"/>
<rect x="6" y="566.0999999999999" width="416" height="1.2" fill="#f3f4f8"/>
<rect x="238" y="567.3" width="63" height="18.5" fill="#7b5a50"/>
<text x="6.10" y="485.40" font-size="12.50" textLength="31.15" lengthAdjust="spacingAndGlyphs" stroke="#111" stroke-width="0.25">OMM</text>
<text x="5.57" y="503.60" font-size="12.35" textLength="23.75" lengthAdjust="spacingAndGlyphs" stroke="#111" stroke-width="0.25">IMS</text>
<text x="5.84" y="582.60" font-size="10.17" fill="#1a1a1a" textLength="20.21" lengthAdjust="spacingAndGlyphs">IMM</text>
<text x="467.98" y="475.20" font-size="13.52" class="b" textLength="85.00" lengthAdjust="spacingAndGlyphs">ABSENCE OF</text>
<text x="556.60" y="475.20" font-size="13.52" class="it" textLength="47.20" lengthAdjust="spacingAndGlyphs" style="stroke-width:0.65">YME1L</text>
<path d="M33.3,515.2 L89.1,515.2 M59,515.2 L59,504.5 L130.6,504.5 L130.6,513" fill="none" stroke="#111" stroke-width="1.5"/>
<path d="M130.6,519.5 L126.39999999999999,511.94 L134.79999999999998,511.94 Z" fill="#111"/>
<text x="12.02" y="529.90" font-size="9.16" class="bi" textLength="35.23" lengthAdjust="spacingAndGlyphs">m-AAA</text>
<text x="51.91" y="530.50" font-size="9.88" class="bi" textLength="65.51" lengthAdjust="spacingAndGlyphs">pre-pro-OMA1</text>
<text x="121.05" y="529.60" font-size="10.61" class="bi" textLength="54.16" lengthAdjust="spacingAndGlyphs">pro-OMA1</text>
<g transform="translate(0.5,426.3) scale(1.0)"><path d="M17.6,121 C17.3,118.5 20,117.6 22.9,118.1 C23.6,118.3 24.2,118.8 24.6,119.3 C24.5,115 24.8,112 25.3,111 C26,108.5 27,108 28.3,108 C30.5,108 32.5,108.8 34.4,109.7 C36.5,108.4 38.5,107.7 40.8,107.7 C42.5,107.7 43.6,107.9 44.4,108.3 C48,113 51,119 54,124 C57,128 60,129.5 63.8,131 C70,136 77,143 82.6,149.8 C84.5,152 85.7,154 85.7,156 C85,160 81,164 76.3,166.5 C72,169 68,170.5 63.8,171.7 C58,175 55,177 51.3,177.5 C47,178.5 42,179.5 38.8,179 C35,178 33,176 32.5,173.8 C31.8,165 31.5,157 30.4,150.9 C27,142 20,131 17.6,121 Z" fill="#f6b826" stroke="#ee9f22" stroke-width="0.9"/><path d="M17.6,121 C17.3,118.5 20,117.6 22.9,118.1 C23.6,118.3 24.2,118.8 24.6,119.3 C24.5,115 24.8,112 25.3,111 C26,108.5 27,108 28.3,108 C30.5,108 32.5,108.8 34.4,109.7 C38,117 42,125 47.4,131.8 C55,139 64,144 70,148.8 C72,151 72,153 71.1,154 C68,159 65,163 61.7,165.5 L63.8,171.7 C58,175 55,177 51.3,177.5 C47,178.5 42,179.5 38.8,179 C35,178 33,176 32.5,173.8 C31.8,165 31.5,157 30.4,150.9 C27,142 20,131 17.6,121 Z" fill="#f9c126"/><path d="M24.6,119.3 C29,128 34,135 37.8,142 C38.5,150 39,158 39.3,166.5 C40,169.5 44,170.5 48.2,170.2 L61.7,165.5 C66,162 70,158 71,154 C72,150 70,148 68,147 C60,142 52,136 48.2,130 M34.4,109.7 C38,117 42,125 47.4,131.8" fill="none" stroke="#e8902a" stroke-width="1"/></g>
<path d="M85,578 C85,590 76,596 66,601 C60,604 56,607 52.5,610.5" fill="none" stroke="#e9745c" stroke-width="3.4" stroke-linecap="round"/>
<g transform="translate(72.7,535.5)"><path d="M-0.3,0.8 C0.5,-0.2 3,-0.5 4.6,0 L9.7,11.6 L14.3,2.6 C15,1.8 16.2,1.5 17.2,1.6 C20.8,2 23,4.8 22.8,8.6 C22.5,14 18,19 13.8,22 L12.0,40 L9.0,40 L6.800000000000001,22 C3.5,18 -0.8,9 -0.3,0.8 Z" fill="#e9735c"/></g>
<g transform="translate(118.6,538)"><path d="M-0.3,0.8 C0.5,-0.2 3,-0.5 4.6,0 L9.7,11.6 L14.3,2.6 C15,1.8 16.2,1.5 17.2,1.6 C20.8,2 23,4.8 22.8,8.6 C22.5,14 18,19 13.8,22 L12.0,53 L9.0,53 L6.800000000000001,22 C3.5,18 -0.8,9 -0.3,0.8 Z" fill="#e9735c"/><ellipse cx="10.5" cy="53" rx="1.9" ry="1.7" fill="#b84a3a"/></g>
<path d="M189.3,538.6 C190,536 192,535.5 194.9,535.5 L211,531.2 L220.9,528.7 L234.5,527.4 L236,545 L240.7,569.6 L243.2,589.4 L238.2,591.9 L230.8,594.3 L227.1,599.3 L220.9,595.6 L212.2,594.3 L211,588.2 L208.5,568.3 L198.6,557.2 L189.9,547.3 Z" fill="#b8e1cc"/>
<path d="M199.2,542.3 L199.8,549.7 L213.5,565.8 L218.4,559.7 L220.9,565.8 L229.6,566.5 L232,554.7 L235.1,539.8 L233.3,534.9 L213.5,531.2 Z" fill="#72c19b"/>
<path d="M195.6,507.3 L195.6,519" fill="none" stroke="#111" stroke-width="1.5"/>
<path d="M195.6,526 L191.4,518.44 L199.79999999999998,518.44 Z" fill="#111"/>
<text x="203.68" y="516.70" font-size="10.32" class="bi" textLength="32.70" lengthAdjust="spacingAndGlyphs">YME1L</text>
<ellipse cx="273.9" cy="533.4" rx="44" ry="11.5" fill="#ece79c" opacity="0.92"/>
<text x="232.47" y="535.20" font-size="9.16" class="bi" textLength="86.84" lengthAdjust="spacingAndGlyphs">OMA1 auto catalysis</text>
<path d="M173.4,552.2 L320,552.2" fill="none" stroke="#111" stroke-width="1.5"/>
<path d="M240,546 L306,548 L300,566 L244,566 Z" fill="#b8402f"/>
<g transform="translate(238,540.8)"><path d="M-0.3,0.8 C0.5,-0.2 3,-0.5 4.6,0 L9.7,11.6 L14.3,2.6 C15,1.8 16.2,1.5 17.2,1.6 C20.8,2 23,4.8 22.8,8.6 C22.5,14 18,19 13.3,22 L11.9,50.90000000000009 L9.1,50.90000000000009 L7.300000000000001,22 C3.5,18 -0.8,9 -0.3,0.8 Z" fill="#b83a30" transform="translate(-0.8,-0.6)"/><path d="M-0.3,0.8 C0.5,-0.2 3,-0.5 4.6,0 L9.7,11.6 L14.3,2.6 C15,1.8 16.2,1.5 17.2,1.6 C20.8,2 23,4.8 22.8,8.6 C22.5,14 18,19 13.3,22 L11.9,50.90000000000009 L9.1,50.90000000000009 L7.300000000000001,22 C3.5,18 -0.8,9 -0.3,0.8 Z" fill="#ea7060" stroke="#b83a30" stroke-width="0.9" stroke-linejoin="round"/></g>
<g transform="translate(247.5,540.8)"><path d="M-0.3,0.8 C0.5,-0.2 3,-0.5 4.6,0 L9.7,11.6 L14.3,2.6 C15,1.8 16.2,1.5 17.2,1.6 C20.8,2 23,4.8 22.8,8.6 C22.5,14 18,19 13.3,22 L11.9,53.200000000000045 L9.1,53.200000000000045 L7.300000000000001,22 C3.5,18 -0.8,9 -0.3,0.8 Z" fill="#b83a30" transform="translate(-0.8,-0.6)"/><path d="M-0.3,0.8 C0.5,-0.2 3,-0.5 4.6,0 L9.7,11.6 L14.3,2.6 C15,1.8 16.2,1.5 17.2,1.6 C20.8,2 23,4.8 22.8,8.6 C22.5,14 18,19 13.3,22 L11.9,53.200000000000045 L9.1,53.200000000000045 L7.300000000000001,22 C3.5,18 -0.8,9 -0.3,0.8 Z" fill="#ea7060" stroke="#b83a30" stroke-width="0.9" stroke-linejoin="round"/><ellipse cx="10.5" cy="53.200000000000045" rx="1.9" ry="1.7" fill="#c89020"/></g>
<g transform="translate(257.6,540.8)"><path d="M-0.3,0.8 C0.5,-0.2 3,-0.5 4.6,0 L9.7,11.6 L14.3,2.6 C15,1.8 16.2,1.5 17.2,1.6 C20.8,2 23,4.8 22.8,8.6 C22.5,14 18,19 13.3,22 L11.9,51.200000000000045 L9.1,51.200000000000045 L7.300000000000001,22 C3.5,18 -0.8,9 -0.3,0.8 Z" fill="#b83a30" transform="translate(-0.8,-0.6)"/><path d="M-0.3,0.8 C0.5,-0.2 3,-0.5 4.6,0 L9.7,11.6 L14.3,2.6 C15,1.8 16.2,1.5 17.2,1.6 C20.8,2 23,4.8 22.8,8.6 C22.5,14 18,19 13.3,22 L11.9,51.200000000000045 L9.1,51.200000000000045 L7.300000000000001,22 C3.5,18 -0.8,9 -0.3,0.8 Z" fill="#ea7060" stroke="#b83a30" stroke-width="0.9" stroke-linejoin="round"/></g>
<g transform="translate(266.6,540.8)"><path d="M-0.3,0.8 C0.5,-0.2 3,-0.5 4.6,0 L9.7,11.6 L14.3,2.6 C15,1.8 16.2,1.5 17.2,1.6 C20.8,2 23,4.8 22.8,8.6 C22.5,14 18,19 13.3,22 L11.9,53.700000000000045 L9.1,53.700000000000045 L7.300000000000001,22 C3.5,18 -0.8,9 -0.3,0.8 Z" fill="#b83a30" transform="translate(-0.8,-0.6)"/><path d="M-0.3,0.8 C0.5,-0.2 3,-0.5 4.6,0 L9.7,11.6 L14.3,2.6 C15,1.8 16.2,1.5 17.2,1.6 C20.8,2 23,4.8 22.8,8.6 C22.5,14 18,19 13.3,22 L11.9,53.700000000000045 L9.1,53.700000000000045 L7.300000000000001,22 C3.5,18 -0.8,9 -0.3,0.8 Z" fill="#ea7060" stroke="#b83a30" stroke-width="0.9" stroke-linejoin="round"/></g>
<g transform="translate(277.3,540.8)"><path d="M-0.3,0.8 C0.5,-0.2 3,-0.5 4.6,0 L9.7,11.6 L14.3,2.6 C15,1.8 16.2,1.5 17.2,1.6 C20.8,2 23,4.8 22.8,8.6 C22.5,14 18,19 13.3,22 L11.9,51.700000000000045 L9.1,51.700000000000045 L7.300000000000001,22 C3.5,18 -0.8,9 -0.3,0.8 Z" fill="#b83a30" transform="translate(-0.8,-0.6)"/><path d="M-0.3,0.8 C0.5,-0.2 3,-0.5 4.6,0 L9.7,11.6 L14.3,2.6 C15,1.8 16.2,1.5 17.2,1.6 C20.8,2 23,4.8 22.8,8.6 C22.5,14 18,19 13.3,22 L11.9,51.700000000000045 L9.1,51.700000000000045 L7.300000000000001,22 C3.5,18 -0.8,9 -0.3,0.8 Z" fill="#ea7060" stroke="#b83a30" stroke-width="0.9" stroke-linejoin="round"/></g>
<g transform="translate(288,542.5)"><path d="M-0.3,0.8 C0.5,-0.2 3,-0.5 4.6,0 L9.7,11.6 L14.3,2.6 C15,1.8 16.2,1.5 17.2,1.6 C20.8,2 23,4.8 22.8,8.6 C22.5,14 18,19 13.3,22 L11.9,53.0 L9.1,53.0 L7.300000000000001,22 C3.5,18 -0.8,9 -0.3,0.8 Z" fill="#b83a30" transform="translate(-0.8,-0.6)"/><path d="M-0.3,0.8 C0.5,-0.2 3,-0.5 4.6,0 L9.7,11.6 L14.3,2.6 C15,1.8 16.2,1.5 17.2,1.6 C20.8,2 23,4.8 22.8,8.6 C22.5,14 18,19 13.3,22 L11.9,53.0 L9.1,53.0 L7.300000000000001,22 C3.5,18 -0.8,9 -0.3,0.8 Z" fill="#ea7060" stroke="#b83a30" stroke-width="0.9" stroke-linejoin="round"/></g>
<path d="M326,552.2 L318.44,548.0 L318.44,556.4000000000001 Z" fill="#111"/>
<text x="351.48" y="511.50" font-size="10.17" class="bi" textLength="36.45" lengthAdjust="spacingAndGlyphs">S-OPA1</text>
<path d="M395.5,505 L395.5,517.2" fill="none" stroke="#111" stroke-width="1.5"/>
<path d="M395.5,498.8 L391.3,506.36 L399.7,506.36 Z" fill="#111"/>
<path d="M306.8,552.6 L320,552.6" fill="none" stroke="#111" stroke-width="1.5"/>
<g transform="translate(327,519)"><path d="M7.2,20.0 L7.6,29 L9.8,32.5 L12.2,29 L12.6,20.0 Z" fill="#7cc6f2" stroke="#0b2fd8" stroke-width="1.8" stroke-linejoin="round"/><path d="M10,1 C4.5,1 1,3.8 1,8.5 L1,17 C1,19.2 3,20.8 7.2,22.0 L12.6,22.0 C16.5,20.8 19,19 19,16.5 L19,8.5 C19,3.8 15.5,1 10,1 Z" fill="#7cc6f2" stroke="#0b2fd8" stroke-width="2.1" stroke-linejoin="round"/><path d="M8.4,19.0 L8.7,29 L11,29 L11.4,19.0 Z" fill="#7cc6f2"/><path d="M9.4,0.6 L9.4,12 L19,12" fill="none" stroke="#0b2fd8" stroke-width="2.2"/><path d="M11,-0.2 L11,4" stroke="#d8effa" stroke-width="1"/><path d="M0.6,16.6 L8.4,16.6" stroke="#0b2fd8" stroke-width="2.6"/><path d="M0.2,16.6 L7.6,16.6" stroke="#c2e8fb" stroke-width="0.9"/><rect x="7.8" y="29.6" width="4" height="2.8" fill="#c8e040"/></g>
<g transform="translate(350.8,517.2)"><path d="M7.2,20.0 L7.6,41.5 L9.8,45.0 L12.2,41.5 L12.6,20.0 Z" fill="#7cc6f2" stroke="#0b2fd8" stroke-width="1.8" stroke-linejoin="round"/><path d="M10,1 C4.5,1 1,3.8 1,8.5 L1,17 C1,19.2 3,20.8 7.2,22.0 L12.6,22.0 C16.5,20.8 19,19 19,16.5 L19,8.5 C19,3.8 15.5,1 10,1 Z" fill="#7cc6f2" stroke="#0b2fd8" stroke-width="2.1" stroke-linejoin="round"/><path d="M8.4,19.0 L8.7,41.5 L11,41.5 L11.4,19.0 Z" fill="#7cc6f2"/><path d="M9.4,0.6 L9.4,12 L19,12" fill="none" stroke="#0b2fd8" stroke-width="2.2"/><path d="M11,-0.2 L11,4" stroke="#d8effa" stroke-width="1"/><path d="M0.6,16.6 L8.4,16.6" stroke="#0b2fd8" stroke-width="2.6"/><path d="M0.2,16.6 L7.6,16.6" stroke="#c2e8fb" stroke-width="0.9"/><rect x="7.8" y="42.1" width="4" height="2.8" fill="#e06040"/></g>
<g transform="translate(373.6,517)"><path d="M7.2,20.0 L7.6,30 L9.8,33.5 L12.2,30 L12.6,20.0 Z" fill="#7cc6f2" stroke="#0b2fd8" stroke-width="1.8" stroke-linejoin="round"/><path d="M10,1 C4.5,1 1,3.8 1,8.5 L1,17 C1,19.2 3,20.8 7.2,22.0 L12.6,22.0 C16.5,20.8 19,19 19,16.5 L19,8.5 C19,3.8 15.5,1 10,1 Z" fill="#7cc6f2" stroke="#0b2fd8" stroke-width="2.1" stroke-linejoin="round"/><path d="M8.4,19.0 L8.7,30 L11,30 L11.4,19.0 Z" fill="#7cc6f2"/><path d="M9.4,0.6 L9.4,12 L19,12" fill="none" stroke="#0b2fd8" stroke-width="2.2"/><path d="M11,-0.2 L11,4" stroke="#d8effa" stroke-width="1"/><path d="M0.6,16.6 L8.4,16.6" stroke="#0b2fd8" stroke-width="2.6"/><path d="M0.2,16.6 L7.6,16.6" stroke="#c2e8fb" stroke-width="0.9"/><rect x="7.8" y="30.6" width="4" height="2.8" fill="#c8e040"/></g>
<g transform="translate(396.9,516.8)"><path d="M7.2,20.0 L7.4,44.100000000000094 L12.4,44.100000000000094 L12.6,20.0 Z" fill="#7cc6f2" stroke="#0b2fd8" stroke-width="1.8" stroke-linejoin="round"/><path d="M10,1 C4.5,1 1,3.8 1,8.5 L1,17 C1,19.2 3,20.8 7.2,22.0 L12.6,22.0 C16.5,20.8 19,19 19,16.5 L19,8.5 C19,3.8 15.5,1 10,1 Z" fill="#7cc6f2" stroke="#0b2fd8" stroke-width="2.1" stroke-linejoin="round"/><path d="M8.4,19.0 L8.7,40.90000000000009 L11,40.90000000000009 L11.4,19.0 Z" fill="#7cc6f2"/><path d="M9.4,0.6 L9.4,12 L19,12" fill="none" stroke="#0b2fd8" stroke-width="2.2"/><path d="M11,-0.2 L11,4" stroke="#d8effa" stroke-width="1"/><path d="M0.6,16.6 L8.4,16.6" stroke="#0b2fd8" stroke-width="2.6"/><path d="M0.2,16.6 L7.6,16.6" stroke="#c2e8fb" stroke-width="0.9"/><rect x="7.8" y="41.50000000000009" width="4" height="2.8" fill="#5a5a9a"/></g>
<path d="M231.7,599 L231.7,615 M262.6,646 L281.4,646 L281.4,605" fill="none" stroke="#111" stroke-width="1.5"/>
<path d="M281.4,598 L277.2,605.56 L285.59999999999997,605.56 Z" fill="#111"/>
<rect x="194" y="615.8" width="68.6" height="53.3" rx="3" fill="#fff" stroke="#111" stroke-width="1.3"/>
<text x="207.41" y="640.80" font-size="10.47" class="it" style="stroke-width:0.55">STRESS</text>
<text x="195.83" y="653.90" font-size="11.05" class="it" textLength="65.08" lengthAdjust="spacingAndGlyphs" style="stroke-width:0.55">CONDITIONS</text>
<g transform="translate(1.4,236.6)"><g transform="translate(504.5,265.5)"><ellipse cx="0" cy="0" rx="17.8" ry="12.7" transform="rotate(-12)" fill="#b0aaa0" stroke="#3b3733" stroke-width="1.3"/><path d="M-13.6,0.1 L-11.1,-4.2 L-4.9,-6.7 L1.4,-6.1 L0.8,-1.1 L7.7,-1.1 L8.9,4.5 L-1.7,8.3 L-5.5,0.1 L-7.4,3.9 Z" fill="#f8f3c8" stroke="#3b3733" stroke-width="0.9" stroke-linejoin="round"/><path d="M1,-1.5 L9,-7.5" stroke="#3b3733" stroke-width="2"/></g><g transform="translate(551.3,272.1)"><ellipse cx="0" cy="0" rx="17.8" ry="12.7" transform="rotate(-12)" fill="#b0aaa0" stroke="#3b3733" stroke-width="1.3"/><ellipse cx="0.5" cy="-0.3" rx="13" ry="8.6" transform="rotate(-12)" fill="#f8f3c8" stroke="#3b3733" stroke-width="0.9"/><path d="M-14,1.2 L-3,0.8 C-1.5,1 -1.5,3.5 -3,3.6 L-13,5" fill="#b0aaa0" stroke="#3b3733" stroke-width="0.9"/><path d="M4,-9.5 L5.6,0.8 L8.5,-8.5 Z" fill="#b0aaa0" stroke="#3b3733" stroke-width="0.9"/></g><g transform="translate(476.1,302.2)"><ellipse cx="0" cy="0" rx="17.8" ry="12.7" transform="rotate(-12)" fill="#b0aaa0" stroke="#3b3733" stroke-width="1.3"/><ellipse cx="0.5" cy="-0.3" rx="13" ry="8.8" transform="rotate(-12)" fill="#f8f3c8" stroke="#3b3733" stroke-width="0.9"/><path d="M-9,8.5 C-6,2 0,-2 6.5,-2.8" fill="none" stroke="#3b3733" stroke-width="3.8" stroke-linecap="round"/><path d="M-9,8.5 C-6,2 0,-2 6.5,-2.8" fill="none" stroke="#b0aaa0" stroke-width="2" stroke-linecap="round"/></g><g transform="translate(518.3,319)"><ellipse cx="0" cy="0" rx="17.8" ry="12.7" transform="rotate(-12)" fill="#b0aaa0" stroke="#3b3733" stroke-width="1.3"/><path d="M-10,4 C-11,-1 -9,-5 -4,-6 L3,-5.5 L10,-8 L11,-6 L4,-2 L12,-1 L11,1.5 L4,2 L5,7 L2,7.5 L1,2 L-2,3 L-1,7.5 L-4,7.5 L-4,2 C-6,-2 -9,1 -7,4 Z" fill="#f8f3c8" stroke="#3b3733" stroke-width="0.9" stroke-linejoin="round"/></g><g transform="translate(562.5,304)"><ellipse cx="0" cy="0" rx="17.8" ry="12.7" transform="rotate(-12)" fill="#b0aaa0" stroke="#3b3733" stroke-width="1.3"/><ellipse cx="0" cy="0" rx="13.5" ry="9" transform="rotate(-12)" fill="#f8f3c8" stroke="#3b3733" stroke-width="0.9"/><circle cx="-7.4" cy="-1.3" r="2" fill="none" stroke="#3b3733" stroke-width="0.9"/><circle cx="3.5" cy="4.7" r="2.7" fill="#f8f3c8" stroke="#3b3733" stroke-width="0.9"/><path d="M4.2,-8.5 L0.4,-0.4" stroke="#3b3733" stroke-width="2.6" stroke-linecap="round"/></g></g>
</svg></body></html>
